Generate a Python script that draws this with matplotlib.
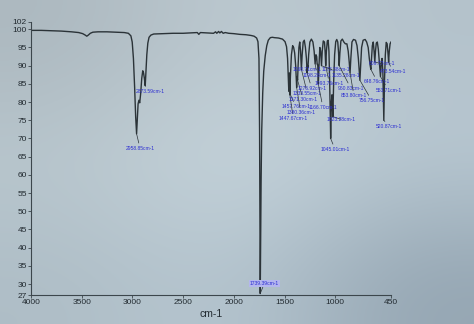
import numpy as np
import matplotlib
matplotlib.use("Agg")
import matplotlib.pyplot as plt

plt.rcParams["font.family"] = ["Liberation Sans Narrow", "Liberation Sans", "DejaVu Sans"]

# ===== spectrum trace (cm-1, %T) =====
wn = [4000, 3900, 3800, 3700, 3600, 3530, 3490, 3465, 3450, 3435, 3415, 3390,
      3340, 3250, 3150, 3080, 3040, 3015, 3002, 2990, 2978, 2968, 2958.85,
      2952, 2944, 2936, 2928, 2918, 2908, 2898, 2890, 2882, 2873.59, 2866,
      2858, 2848, 2836, 2818, 2790, 2700, 2600, 2500, 2420, 2360, 2345, 2330,
      2260, 2200, 2180, 2168, 2150, 2138, 2122, 2105, 2085, 2050, 2000, 1940,
      1880, 1830, 1800, 1775, 1762, 1752, 1746, 1742, 1739.39, 1736, 1731,
      1725, 1715, 1705, 1690, 1675, 1660, 1640, 1620, 1600, 1560, 1520, 1495,
      1480, 1470, 1463, 1457.76, 1452, 1447.67, 1442, 1432, 1420, 1410, 1400,
      1390, 1384, 1380.36, 1376, 1371.30, 1366, 1358, 1350, 1342, 1333.55,
      1326, 1316, 1305, 1294, 1284, 1276.92, 1272, 1268.71, 1262, 1250, 1235,
      1220, 1208, 1198.28, 1190, 1183, 1178.38, 1172, 1166.70, 1160, 1152,
      1144, 1135.28, 1128, 1118, 1106, 1100, 1093.76, 1087, 1078, 1070, 1062,
      1055, 1045.01, 1038, 1032, 1023.28, 1015, 1006, 995, 985, 975, 967,
      960.83, 954, 944, 930, 915, 900, 885, 872, 862, 853.80, 846, 835, 820,
      800, 785, 772, 764, 756.75, 749, 740, 725, 705, 690, 675, 664, 655,
      648.76, 642, 634, 625, 617, 609.77, 603, 595, 585, 575, 562, 553.71,
      546, 538, 530, 520.87, 514, 506, 497, 488, 480, 473.54, 467, 459, 450]
tr = [99.7, 99.7, 99.6, 99.5, 99.3, 99.1, 98.8, 98.4, 98.1, 98.4, 98.9, 99.2,
      99.3, 99.3, 99.2, 99.1, 98.9, 98.2, 96.5, 92.0, 84.0, 76.0, 71.3,
      75.0, 79.5, 80.5, 79.8, 82.5, 86.5, 88.6, 88.0, 86.5, 84.5, 88.5,
      93.0, 96.2, 97.8, 98.4, 98.7, 98.8, 98.9, 98.9, 99.0, 99.1, 98.6, 99.1,
      99.0, 98.9, 99.3, 98.9, 99.4, 99.0, 99.4, 98.9, 99.1, 98.9, 98.8, 98.6,
      98.5, 98.3, 98.1, 97.6, 96.6, 92.0, 72.0, 42.0, 27.4, 40.0, 58.0,
      72.0, 82.5, 88.5, 92.8, 95.5, 97.0, 97.7, 97.8, 97.7, 97.6, 97.3, 96.6,
      95.2, 92.0, 87.0, 83.0, 88.0, 82.0, 87.0, 93.0, 95.5, 95.0, 93.5,
      90.0, 86.0, 84.0, 87.0, 86.0, 90.0, 95.0, 96.5, 94.0, 89.0,
      93.0, 96.5, 97.0, 95.0, 92.0, 88.0, 90.0, 89.5, 93.0, 96.5, 97.3,
      96.5, 94.0, 90.5, 93.0, 92.5, 90.5, 90.0, 85.0, 90.0, 95.0,
      94.0, 90.0, 94.0, 96.8, 96.5, 94.0, 90.0, 94.0, 96.8, 97.0, 94.0,
      86.0, 70.0, 80.0, 82.0, 76.0, 86.0, 93.0, 96.6, 97.2, 96.5, 93.5,
      90.0, 93.5, 96.8, 97.3, 96.5, 96.0, 96.0, 94.0, 91.0, 88.0, 92.0, 96.5, 97.2,
      97.0, 95.5, 92.0, 89.0, 86.0, 90.0, 95.0, 97.0, 97.2, 96.5, 95.0, 92.0, 90.0,
      89.0, 92.0, 95.5, 96.5, 94.0, 91.0, 94.0, 96.2, 96.5, 94.5, 90.0, 87.0,
      91.0, 92.0, 88.0, 75.0, 86.0, 93.0, 96.4, 96.0, 93.5, 91.0, 94.0, 96.0, 96.5]

# ===== peak labels =====
peak_wn = [2958.85, 2873.59, 1739.39, 1457.76, 1447.67, 1380.36, 1371.30,
           1333.55, 1276.92, 1268.71, 1198.28, 1178.38, 1166.70, 1135.28,
           1093.76, 1045.01, 1023.28, 960.83, 853.80, 756.75, 648.76,
           609.77, 553.71, 520.87, 473.54]
label_x = [2925, 2826, 1699, 1388, 1413, 1340, 1315, 1275, 1232, 1282, 1178,
           993, 1122, 898, 1058, 1002, 946, 847, 815, 640, 585, 538, 476,
           466, 433]
label_y = [67.3, 82.9, 30.2, 78.7, 75.4, 77.1, 80.6, 82.4, 83.8, 89.0, 87.4,
           89.0, 78.6, 87.4, 85.1, 67.0, 75.3, 83.8, 81.7, 80.4, 85.6, 90.5,
           83.3, 73.2, 88.4]

x_ticks = [4000, 3500, 3000, 2500, 2000, 1500, 1000, 450]
y_ticks = [27, 30, 35, 40, 45, 50, 55, 60, 65, 70, 75, 80, 85, 90, 95, 100, 102]

W, H = 474, 324
fig = plt.figure(figsize=(W / 100, H / 100), dpi=100)

# screen-photo backdrop
bg = fig.add_axes([0, 0, 1, 1], zorder=-1)
grad = np.array([
    [[172, 184, 191], [190, 203, 210], [180, 194, 203]],
    [[186, 200, 207], [202, 216, 223], [184, 200, 210]],
    [[174, 189, 198], [184, 200, 210], [148, 165, 178]],
]) / 255.0
bg.imshow(grad, aspect="auto", interpolation="bicubic", extent=[0, 1, 0, 1])
bg.axis("off")

ax = fig.add_axes([31 / W, 1 - 295 / H, 360 / W, (295 - 22) / H])
ax.patch.set_alpha(0)

line_col = "#2b3338"
ax.plot(wn, tr, color=line_col, lw=1.0)

ax.set_xlim(4000, 450)
ax.set_ylim(27, 102)
ax.set_xticks(x_ticks)
ax.set_yticks(y_ticks)
ax.tick_params(length=2, width=0.6, color="#3c464c", labelsize=6,
               labelcolor="#222a30", pad=1)
for s in ("top", "right"):
    ax.spines[s].set_visible(False)
for s in ("left", "bottom"):
    ax.spines[s].set_color("#3c464c")
    ax.spines[s].set_linewidth(0.8)

# peak picks with leader lines
peak_tr = np.interp(peak_wn, wn[::-1], tr[::-1])
for w, t, lx, ly in zip(peak_wn, peak_tr, label_x, label_y):
    box = None
    if w == 1739.39:
        box = dict(boxstyle="square,pad=0.15", fc="#b4b6ee", ec="none")
    ax.annotate(f"{w:.2f}cm-1", xy=(w, t), xytext=(lx, ly),
                fontsize=3.6, color="#2c2ed2", ha="center", va="center",
                bbox=box, annotation_clip=False,
                arrowprops=dict(arrowstyle="-", color=line_col, lw=0.5,
                                shrinkA=0, shrinkB=0))

fig.text(211 / W, 1 - 314 / H, "cm-1", fontsize=7.5, color="#222a30",
         ha="center", va="center")

fig.savefig("out.png", dpi=100)
